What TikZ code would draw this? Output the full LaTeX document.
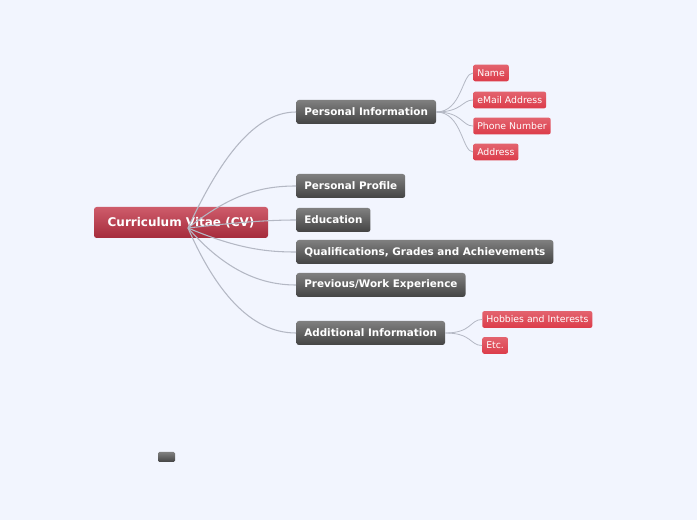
\documentclass[tikz,border=0pt]{standalone}
\usepackage{fontspec}
\setmainfont{DejaVu Sans}
\usetikzlibrary{positioning}
\definecolor{bgcol}{HTML}{F2F5FE}
\definecolor{rootcol}{HTML}{C23346}
\definecolor{leafcol}{HTML}{DC3C4A}
\definecolor{topiccol}{HTML}{555555}
\definecolor{linkcol}{HTML}{B4B8C4}
\tikzset{
  rootbox/.style={rectangle, rounded corners=2pt, top color=rootcol!80!white, bottom color=rootcol!85!black,
    text=white, font=\fontsize{9pt}{10pt}\selectfont\bfseries, minimum height=23.25pt, minimum width=130.5pt, inner sep=0pt},
  topic/.style={rectangle, rounded corners=2pt, top color=topiccol!75!white, bottom color=topiccol!80!black,
    text=white, font=\fontsize{7.8pt}{9pt}\selectfont\bfseries, minimum height=18pt, anchor=west, inner xsep=6pt, inner ysep=0pt},
  leaf/.style={rectangle, rounded corners=1.5pt, top color=leafcol!80!white, bottom color=leafcol,
    text=white, font=\fontsize{7pt}{8pt}\selectfont, minimum height=12.5pt, anchor=west, inner xsep=3pt, inner ysep=0pt},
  link/.style={linkcol, line width=0.8pt}
}
\begin{document}
\begin{tikzpicture}[x=0.75pt, y=-0.75pt]
\fill[bgcol] (0,0) rectangle (697,520);
\useasboundingbox (0,0) rectangle (697,520);
% main idea
\node[rootbox] (cv) at (181,222.5) {Curriculum Vitae (CV)};
\coordinate (hub) at (188,228);
% topics
\node[topic] (info) at (296,112) {Personal Information};
\node[topic] (prof) at (296,186) {Personal Profile};
\node[topic] (edu) at (296,220) {Education};
\node[topic] (qual) at (296,252) {Qualifications, Grades and Achievements};
\node[topic] (work) at (296,285) {Previous/Work Experience};
\node[topic] (add) at (296,333) {Additional Information};
% details
\node[leaf] (name) at (473,73) {Name};
\node[leaf] (mail) at (473,100) {eMail Address};
\node[leaf] (phone) at (473,126) {Phone Number};
\node[leaf] (addr) at (473,152) {Address};
\node[leaf] (hob) at (482,319.5) {Hobbies and Interests};
\node[leaf] (etc) at (482,345.5) {Etc.};
% floating
\node[rectangle, rounded corners=1pt, top color=topiccol!75!white, bottom color=topiccol!80!black,
  minimum width=12.75pt, minimum height=7.5pt, inner sep=0pt] (blank) at (166.5,457) {};
% connectors
\draw[link] (hub) .. controls (215,170) and (250,112) .. (info.west);
\draw[link] (hub) .. controls (230,195) and (260,186) .. (prof.west);
\draw[link] (hub) .. controls (240,222) and (270,220) .. (edu.west);
\draw[link] (hub) .. controls (240,250) and (270,252) .. (qual.west);
\draw[link] (hub) .. controls (225,270) and (260,285) .. (work.west);
\draw[link] (hub) .. controls (215,290) and (250,333) .. (add.west);
\foreach \n in {name,mail,phone,addr}
  \draw[link, line width=0.6pt] (info.east) .. controls (462,112) and (462,0|-\n.west) .. (\n.west);
\foreach \n in {hob,etc}
  \draw[link, line width=0.6pt] (add.east) .. controls (472,333) and (470,0|-\n.west) .. (\n.west);
\end{tikzpicture}
\end{document}
